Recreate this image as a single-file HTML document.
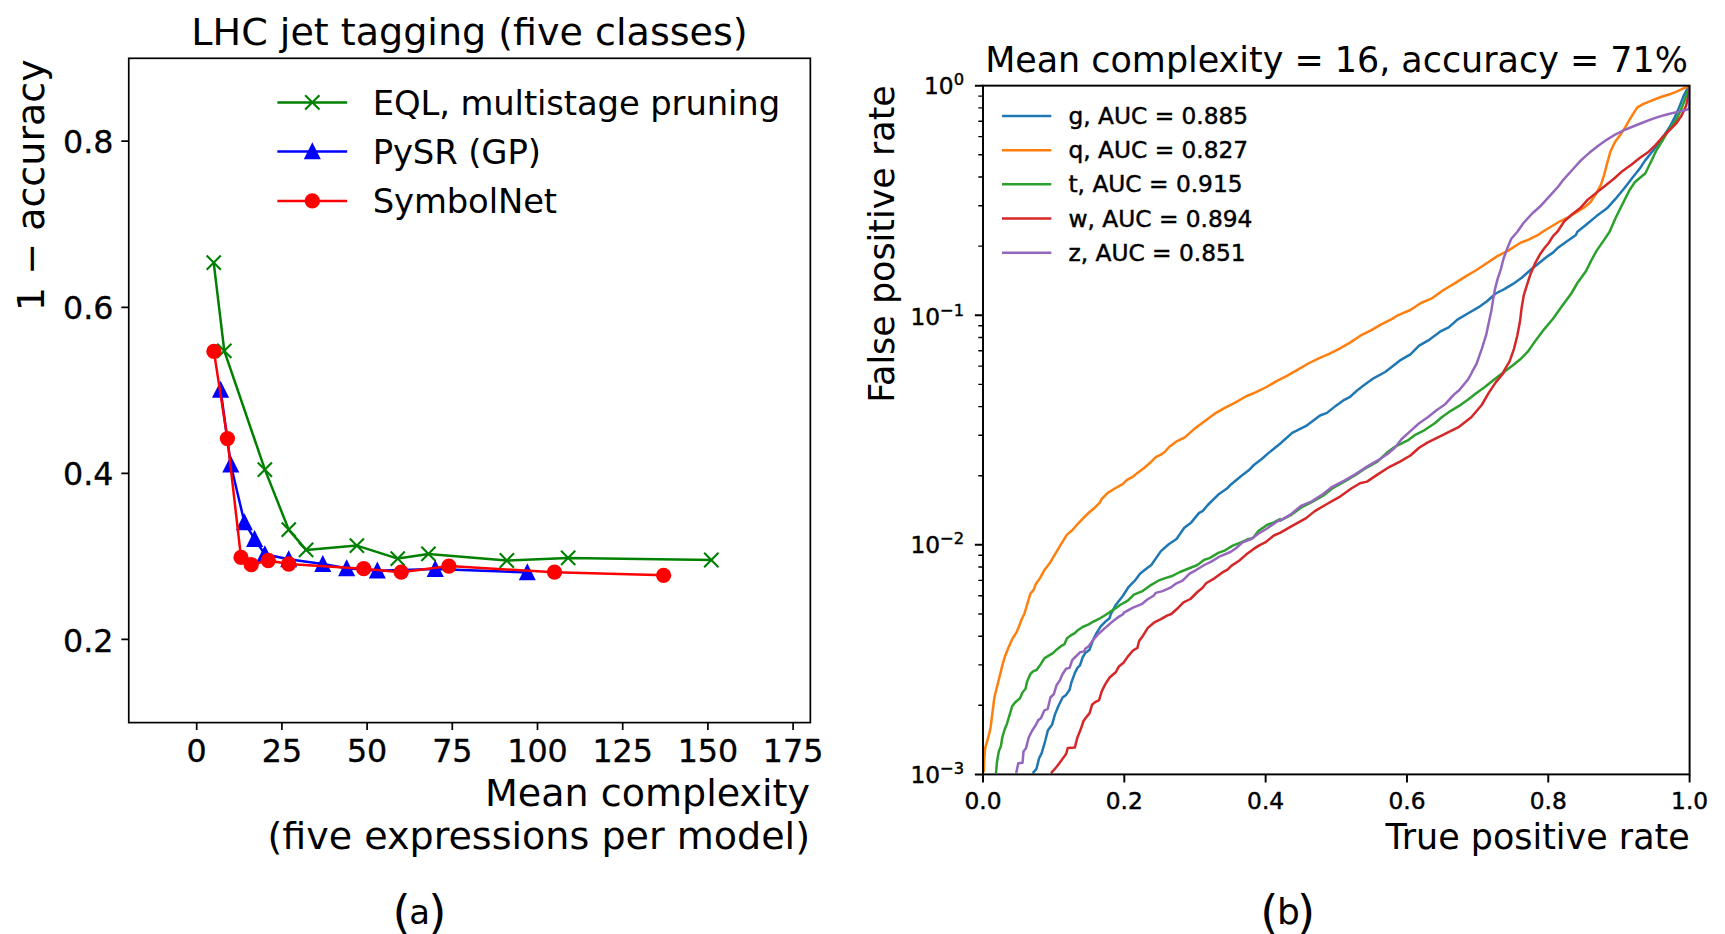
<!DOCTYPE html>
<html lang="en"><head><meta charset="utf-8"><title>SymbolNet LHC jet tagging figure</title>
<style>html,body{margin:0;padding:0;background:#fff;}body{width:1725px;height:934px;overflow:hidden;}svg{display:block;}</style>
</head><body>
<svg width="1725" height="934" viewBox="0 0 1725 934" font-family='"DejaVu Sans","Liberation Sans",sans-serif' fill="#000">
<rect width="1725" height="934" fill="#fff"/>
<g id="left-plot">
<polyline points="213.7,262.7 224.3,350.9 264.9,469.6 288.7,529.6 306.1,549.9 356.9,545.6 397.8,558.6 428.4,553.9 506.8,560.5 568.2,557.9 711.3,560.0" fill="none" stroke="#008000" stroke-width="2.50" stroke-linejoin="round" stroke-linecap="square"/>
<path d="M207.4,256.3L220.1,269.1M207.4,269.1L220.1,256.3" stroke="#008000" stroke-width="2.12" stroke-linecap="square" fill="none"/>
<path d="M217.9,344.5L230.7,357.3M217.9,357.3L230.7,344.5" stroke="#008000" stroke-width="2.12" stroke-linecap="square" fill="none"/>
<path d="M258.5,463.2L271.2,476.0M258.5,476.0L271.2,463.2" stroke="#008000" stroke-width="2.12" stroke-linecap="square" fill="none"/>
<path d="M282.4,523.2L295.1,536.0M282.4,536.0L295.1,523.2" stroke="#008000" stroke-width="2.12" stroke-linecap="square" fill="none"/>
<path d="M299.7,543.5L312.5,556.3M299.7,556.3L312.5,543.5" stroke="#008000" stroke-width="2.12" stroke-linecap="square" fill="none"/>
<path d="M350.5,539.2L363.2,552.0M350.5,552.0L363.2,539.2" stroke="#008000" stroke-width="2.12" stroke-linecap="square" fill="none"/>
<path d="M391.4,552.2L404.1,565.0M391.4,565.0L404.1,552.2" stroke="#008000" stroke-width="2.12" stroke-linecap="square" fill="none"/>
<path d="M422.1,547.5L434.8,560.3M422.1,560.3L434.8,547.5" stroke="#008000" stroke-width="2.12" stroke-linecap="square" fill="none"/>
<path d="M500.5,554.1L513.2,566.9M500.5,566.9L513.2,554.1" stroke="#008000" stroke-width="2.12" stroke-linecap="square" fill="none"/>
<path d="M561.8,551.5L574.5,564.3M561.8,564.3L574.5,551.5" stroke="#008000" stroke-width="2.12" stroke-linecap="square" fill="none"/>
<path d="M704.9,553.6L717.7,566.4M704.9,566.4L717.7,553.6" stroke="#008000" stroke-width="2.12" stroke-linecap="square" fill="none"/>
<polyline points="220.6,390.0 230.8,464.7 244.4,522.3 254.6,539.1 264.9,554.3 288.7,559.3 322.8,564.1 346.7,568.3 377.3,570.7 435.3,569.1 527.3,572.4" fill="none" stroke="#0000ff" stroke-width="2.50" stroke-linejoin="round" stroke-linecap="square"/>
<path d="M220.6,383.2L213.7,396.8L227.4,396.8Z" fill="#0000ff" stroke="#0000ff" stroke-width="2.12" stroke-linejoin="miter"/>
<path d="M230.8,457.9L224.0,471.5L237.6,471.5Z" fill="#0000ff" stroke="#0000ff" stroke-width="2.12" stroke-linejoin="miter"/>
<path d="M244.4,515.5L237.6,529.1L251.2,529.1Z" fill="#0000ff" stroke="#0000ff" stroke-width="2.12" stroke-linejoin="miter"/>
<path d="M254.6,532.3L247.8,545.9L261.5,545.9Z" fill="#0000ff" stroke="#0000ff" stroke-width="2.12" stroke-linejoin="miter"/>
<path d="M264.9,547.5L258.0,561.1L271.7,561.1Z" fill="#0000ff" stroke="#0000ff" stroke-width="2.12" stroke-linejoin="miter"/>
<path d="M288.7,552.5L281.9,566.1L295.5,566.1Z" fill="#0000ff" stroke="#0000ff" stroke-width="2.12" stroke-linejoin="miter"/>
<path d="M322.8,557.3L316.0,570.9L329.6,570.9Z" fill="#0000ff" stroke="#0000ff" stroke-width="2.12" stroke-linejoin="miter"/>
<path d="M346.7,561.5L339.8,575.1L353.5,575.1Z" fill="#0000ff" stroke="#0000ff" stroke-width="2.12" stroke-linejoin="miter"/>
<path d="M377.3,563.9L370.5,577.5L384.1,577.5Z" fill="#0000ff" stroke="#0000ff" stroke-width="2.12" stroke-linejoin="miter"/>
<path d="M435.3,562.3L428.4,575.9L442.1,575.9Z" fill="#0000ff" stroke="#0000ff" stroke-width="2.12" stroke-linejoin="miter"/>
<path d="M527.3,565.6L520.5,579.2L534.1,579.2Z" fill="#0000ff" stroke="#0000ff" stroke-width="2.12" stroke-linejoin="miter"/>
<polyline points="213.9,351.4 227.4,438.6 241.0,557.4 251.2,564.7 268.3,560.5 288.7,564.0 363.7,568.7 401.2,572.2 448.9,566.1 554.5,572.2 663.6,575.3" fill="none" stroke="#ff0000" stroke-width="2.50" stroke-linejoin="round" stroke-linecap="square"/>
<circle cx="213.9" cy="351.4" r="7.63" fill="#ff0000"/>
<circle cx="227.4" cy="438.6" r="7.63" fill="#ff0000"/>
<circle cx="241.0" cy="557.4" r="7.63" fill="#ff0000"/>
<circle cx="251.2" cy="564.7" r="7.63" fill="#ff0000"/>
<circle cx="268.3" cy="560.5" r="7.63" fill="#ff0000"/>
<circle cx="288.7" cy="564.0" r="7.63" fill="#ff0000"/>
<circle cx="363.7" cy="568.7" r="7.63" fill="#ff0000"/>
<circle cx="401.2" cy="572.2" r="7.63" fill="#ff0000"/>
<circle cx="448.9" cy="566.1" r="7.63" fill="#ff0000"/>
<circle cx="554.5" cy="572.2" r="7.63" fill="#ff0000"/>
<circle cx="663.6" cy="575.3" r="7.63" fill="#ff0000"/>
<rect x="128.75" y="58.3" width="681.60" height="664.30" fill="none" stroke="#000" stroke-width="1.70"/>
<path d="M196.70,722.6v7.43M281.90,722.6v7.43M367.10,722.6v7.43M452.30,722.6v7.43M537.50,722.6v7.43M622.70,722.6v7.43M707.90,722.6v7.43M793.10,722.6v7.43M128.75,639.46h-7.43M128.75,473.38h-7.43M128.75,307.30h-7.43M128.75,141.22h-7.43" stroke="#000" stroke-width="1.70" fill="none"/>
<g font-size="31.71" text-anchor="middle" stroke="#000" stroke-width="0.35">
<text x="196.7" y="762.1">0</text>
<text x="281.9" y="762.1">25</text>
<text x="367.1" y="762.1">50</text>
<text x="452.3" y="762.1">75</text>
<text x="537.5" y="762.1">100</text>
<text x="622.7" y="762.1">125</text>
<text x="707.9" y="762.1">150</text>
<text x="793.1" y="762.1">175</text>
</g>
<g font-size="31.71" text-anchor="end" stroke="#000" stroke-width="0.35">
<text x="113.5" y="651.5">0.2</text>
<text x="113.5" y="485.4">0.4</text>
<text x="113.5" y="319.3">0.6</text>
<text x="113.5" y="153.2">0.8</text>
</g>
<text x="469.5" y="44.9" font-size="38.05" text-anchor="middle">LHC jet tagging (five classes)</text>
<text x="810.0" y="805.8" font-size="38.05" text-anchor="end">Mean complexity</text>
<text x="810.0" y="848.7" font-size="38.05" text-anchor="end">(five expressions per model)</text>
<text transform="translate(43.6,59.2) rotate(-90)" font-size="38.05" text-anchor="end">1 − accuracy</text>
<polyline points="278.6,102.4 345.9,102.4" fill="none" stroke="#008000" stroke-width="2.50" stroke-linejoin="round" stroke-linecap="square"/>
<path d="M305.9,96.0L318.7,108.8M305.9,108.8L318.7,96.0" stroke="#008000" stroke-width="2.12" stroke-linecap="square" fill="none"/>
<text x="372.7" y="114.5" font-size="33.82" letter-spacing="-0.11">EQL, multistage pruning</text>
<polyline points="278.6,151.4 345.9,151.4" fill="none" stroke="#0000ff" stroke-width="2.50" stroke-linejoin="round" stroke-linecap="square"/>
<path d="M312.3,144.6L305.5,158.2L319.1,158.2Z" fill="#0000ff" stroke="#0000ff" stroke-width="2.12" stroke-linejoin="miter"/>
<text x="372.7" y="163.9" font-size="33.82" letter-spacing="-0.11">PySR (GP)</text>
<polyline points="278.6,200.9 345.9,200.9" fill="none" stroke="#ff0000" stroke-width="2.50" stroke-linejoin="round" stroke-linecap="square"/>
<circle cx="312.3" cy="200.9" r="7.63" fill="#ff0000"/>
<text x="372.7" y="213.4" font-size="33.82" letter-spacing="-0.11">SymbolNet</text>
</g>
<g id="right-plot">
<clipPath id="rc"><rect x="983.0" y="85.65" width="706.60" height="688.75"/></clipPath>
<g clip-path="url(#rc)">
<polyline points="1032.7,773.1 1036.5,768.8 1039.1,758.3 1041.7,753.1 1045.2,741.0 1047.8,730.5 1052.2,724.4 1054.8,714.9 1058.3,706.2 1062.6,697.5 1066.1,694.9 1069.6,689.7 1071.3,682.7 1074.8,673.1 1077.4,667.9 1080.0,665.3 1082.6,657.5 1085.2,653.1 1089.6,649.7 1093.0,640.1 1096.5,633.1 1100.9,626.2 1105.2,621.8 1109.6,618.3 1110.8,614.0 1110.8,614.1 1115.7,605.0 1122.6,596.3 1128.7,586.8 1134.8,580.7 1140.0,573.7 1144.3,570.3 1151.3,565.0 1160.9,551.1 1168.7,544.2 1176.5,539.0 1184.3,527.7 1191.3,522.4 1199.1,512.9 1202.6,511.1 1207.8,505.0 1218.3,494.6 1227.0,488.5 1231.3,484.2 1240.9,476.3 1248.7,470.3 1253.9,465.0 1261.7,459.0 1268.7,452.9 1280.0,443.7 1292.2,432.9 1306.1,425.9 1320.0,415.5 1327.0,412.9 1335.7,405.9 1344.3,399.8 1349.6,397.2 1358.3,389.4 1365.2,384.2 1373.9,378.1 1385.2,372.0 1400.0,360.4 1410.4,354.3 1419.1,345.7 1429.6,339.6 1440.0,331.7 1448.7,327.4 1457.4,319.6 1467.8,313.5 1478.3,307.4 1487.0,301.3 1495.7,293.5 1504.3,289.1 1513.0,283.9 1521.7,277.8 1530.4,270.0 1539.1,263.0 1547.8,256.1 1553.0,252.6 1558.3,247.4 1567.0,241.3 1575.7,235.2 1577.4,231.7 1586.1,224.8 1596.5,216.1 1607.0,208.3 1615.7,198.7 1624.3,188.3 1633.0,177.0 1640.0,168.3 1645.2,160.4 1652.2,151.7 1659.1,143.0 1664.3,135.2 1670.4,125.7 1674.8,117.0 1679.1,107.4 1683.5,96.1 1688.7,86.2" fill="none" stroke="#1f77b4" stroke-width="2.5" stroke-linejoin="round"/>
<polyline points="983.8,772.3 984.3,758.3 985.2,747.9 987.8,739.2 990.4,728.8 992.2,714.9 993.9,701.0 994.8,695.7 997.4,685.3 1000.0,674.9 1002.6,664.4 1005.2,655.7 1008.7,647.0 1012.2,639.2 1016.5,632.3 1019.1,626.2 1021.7,619.2 1024.3,614.0 1024.3,614.1 1027.0,605.0 1030.4,593.7 1033.9,589.4 1035.7,584.2 1040.0,578.1 1044.3,570.3 1049.6,563.3 1054.8,554.6 1060.0,545.9 1067.0,534.6 1072.2,530.3 1078.3,523.3 1084.3,517.2 1089.6,512.0 1094.8,507.7 1100.0,502.4 1101.7,499.0 1107.8,492.9 1114.8,488.5 1122.6,484.2 1127.0,479.8 1132.2,477.2 1137.4,472.9 1143.5,468.5 1149.6,463.3 1155.7,457.2 1160.9,454.6 1164.7,452.0 1169.1,447.0 1176.1,441.7 1184.8,437.4 1193.5,429.6 1203.9,421.7 1214.3,413.9 1224.8,407.8 1235.2,402.6 1245.7,396.5 1256.1,392.2 1266.5,387.0 1277.0,380.9 1287.4,375.7 1297.8,369.6 1308.3,363.5 1318.7,358.3 1329.1,353.9 1339.6,348.7 1350.0,342.6 1360.4,335.7 1370.9,330.4 1381.3,324.3 1391.7,319.1 1398.7,314.8 1400.0,314.3 1410.4,310.0 1420.9,303.0 1431.3,298.7 1443.5,290.0 1453.9,283.9 1466.1,276.1 1476.5,270.0 1487.0,263.0 1497.4,256.1 1507.8,250.9 1520.0,243.0 1528.7,239.6 1539.1,234.3 1542.6,231.7 1551.3,226.5 1560.0,221.3 1568.7,217.0 1577.4,211.7 1584.3,207.4 1590.4,202.2 1595.7,194.3 1600.9,184.8 1604.3,174.3 1607.0,163.9 1610.4,151.7 1614.8,142.2 1620.0,135.2 1625.2,127.4 1629.6,119.6 1633.9,112.6 1637.4,107.4 1643.5,103.9 1652.2,100.4 1660.9,97.0 1669.6,94.3 1676.5,91.7 1683.5,88.3 1689.4,86.2" fill="none" stroke="#ff7f0e" stroke-width="2.5" stroke-linejoin="round"/>
<polyline points="996.0,773.1 997.0,761.8 998.8,751.4 1000.9,746.2 1002.3,737.5 1004.3,730.5 1007.0,723.6 1009.6,714.9 1012.2,706.2 1014.8,702.7 1020.0,698.3 1022.6,692.3 1025.6,688.8 1027.0,681.8 1030.4,674.0 1033.0,671.4 1036.5,670.0 1040.0,665.3 1044.3,658.3 1048.7,655.7 1053.0,653.1 1056.5,649.7 1060.9,646.2 1064.3,644.4 1067.0,638.3 1070.4,635.7 1074.8,633.1 1077.4,630.5 1082.6,627.0 1088.7,624.4 1093.0,621.8 1100.0,618.3 1104.3,615.7 1107.0,614.0 1113.9,609.4 1120.0,605.0 1127.8,600.7 1133.9,594.6 1142.6,591.1 1149.6,585.9 1158.3,580.7 1165.2,578.1 1171.3,576.3 1180.0,572.0 1188.7,568.5 1197.4,565.0 1204.3,559.8 1209.6,558.1 1218.3,552.9 1225.2,550.3 1232.2,545.9 1240.9,542.4 1248.7,539.0 1253.0,538.1 1258.3,531.1 1267.0,525.0 1273.9,522.4 1280.0,519.0 1280.0,520.7 1290.4,515.5 1300.9,507.7 1311.3,502.4 1323.5,495.5 1332.2,488.5 1344.3,481.6 1354.8,475.5 1365.2,468.5 1377.4,461.6 1387.8,452.0 1394.8,446.8 1401.7,443.3 1408.7,439.8 1415.7,434.6 1424.3,430.3 1434.8,423.3 1441.7,417.2 1450.4,411.1 1459.1,405.9 1467.8,399.8 1476.5,392.9 1485.2,386.8 1493.9,379.8 1501.7,373.7 1511.3,366.5 1520.0,359.6 1527.8,351.7 1535.7,340.4 1544.3,329.1 1553.0,318.7 1561.7,306.5 1571.3,293.5 1577.4,283.0 1586.1,270.9 1591.3,260.4 1596.5,250.9 1604.3,239.6 1609.6,231.7 1615.7,217.8 1622.6,203.9 1629.6,190.0 1634.8,182.2 1640.0,177.8 1645.2,173.5 1650.4,163.0 1655.7,151.7 1662.6,140.4 1668.7,130.0 1675.7,120.4 1680.9,110.0 1685.2,98.7 1689.2,86.2" fill="none" stroke="#2ca02c" stroke-width="2.5" stroke-linejoin="round"/>
<polyline points="1051.0,773.1 1056.5,767.0 1061.7,760.1 1066.1,754.0 1067.8,747.9 1074.8,747.6 1077.4,737.5 1080.9,728.8 1083.5,721.0 1086.1,717.5 1089.6,713.1 1092.2,704.4 1095.7,701.8 1099.1,700.1 1101.7,691.4 1105.2,684.4 1109.6,677.5 1115.7,672.3 1119.1,666.2 1123.5,662.7 1127.8,656.6 1133.0,650.5 1137.4,647.9 1139.1,641.0 1143.5,634.9 1147.8,627.9 1153.9,622.7 1160.9,619.2 1167.0,615.7 1171.3,614.0 1178.3,607.7 1183.5,602.4 1190.4,599.0 1197.4,592.0 1202.6,587.7 1206.1,583.3 1214.8,578.1 1221.7,572.9 1227.8,569.4 1231.3,565.9 1239.1,560.7 1246.1,554.6 1253.0,549.4 1258.3,545.9 1265.2,542.4 1273.9,535.5 1280.0,532.9 1280.0,532.9 1290.4,526.8 1306.1,518.1 1314.8,511.1 1325.2,505.0 1339.1,497.2 1351.3,488.5 1360.0,483.3 1367.0,481.6 1377.4,474.6 1389.6,466.8 1400.0,461.6 1410.4,455.5 1419.1,447.7 1427.8,442.4 1436.5,438.1 1447.0,432.9 1459.1,426.8 1471.3,417.2 1481.7,405.0 1488.7,392.9 1495.7,382.4 1503.5,372.9 1503.5,371.7 1509.6,361.3 1513.9,349.1 1517.4,335.2 1520.0,321.3 1521.7,307.4 1523.8,295.2 1527.0,284.8 1530.4,274.3 1534.8,263.9 1540.0,254.3 1544.3,248.3 1548.7,243.0 1553.0,236.1 1557.4,231.7 1564.3,221.3 1572.2,214.3 1580.9,207.4 1587.8,199.6 1596.5,192.6 1605.2,185.7 1613.9,178.7 1622.6,170.9 1631.3,164.8 1640.0,157.8 1648.7,151.7 1655.7,144.8 1662.6,137.0 1669.6,130.0 1676.5,123.0 1681.7,115.2 1686.1,105.7 1688.7,94.3 1689.6,86.2" fill="none" stroke="#d62728" stroke-width="2.5" stroke-linejoin="round"/>
<polyline points="1016.2,773.1 1018.3,763.2 1022.6,762.7 1023.5,751.4 1026.1,747.9 1028.7,737.5 1032.2,730.5 1035.7,725.3 1038.3,720.1 1040.9,718.3 1044.3,710.5 1047.8,708.8 1050.4,697.5 1053.9,694.0 1056.5,685.3 1060.0,680.1 1062.6,674.0 1066.1,668.8 1069.6,667.9 1072.2,660.1 1074.8,657.5 1080.0,652.3 1084.3,651.4 1085.2,648.8 1088.7,646.2 1093.0,640.1 1098.3,634.0 1105.2,627.9 1112.2,621.8 1119.1,616.6 1123.5,614.0 1123.5,612.9 1133.0,607.7 1141.7,604.2 1147.0,599.8 1153.9,595.5 1155.7,592.9 1162.6,591.1 1170.4,587.7 1176.5,583.3 1182.6,580.7 1189.6,573.7 1195.7,570.3 1204.3,565.0 1211.3,561.6 1220.0,556.3 1230.4,552.0 1235.7,548.5 1242.6,542.4 1251.3,539.0 1258.3,533.7 1267.0,528.5 1275.7,522.4 1280.0,519.8 1280.0,520.7 1290.4,514.6 1300.9,505.9 1311.3,501.6 1323.5,493.7 1332.2,486.8 1344.3,480.7 1354.8,474.6 1365.2,467.7 1377.4,460.7 1387.8,453.7 1394.8,447.7 1401.7,439.0 1410.4,431.1 1419.1,423.3 1427.8,417.2 1436.5,410.3 1445.2,404.2 1453.9,394.6 1459.1,390.3 1467.8,379.8 1472.2,372.0 1472.2,371.7 1476.5,363.9 1481.7,349.1 1486.1,335.2 1488.7,323.0 1491.3,310.9 1493.0,300.4 1494.8,290.0 1497.4,279.6 1500.9,269.1 1503.5,258.7 1507.0,249.1 1511.3,238.7 1517.4,231.7 1523.5,223.0 1532.2,213.5 1540.9,205.7 1549.6,196.1 1558.3,186.5 1563.5,179.6 1572.2,170.0 1580.9,160.4 1589.6,152.6 1598.3,145.7 1607.0,139.6 1615.7,134.3 1624.3,130.0 1633.0,126.5 1641.7,123.0 1650.4,119.6 1659.1,116.6 1667.8,114.3 1676.5,112.1 1685.2,110.3 1689.4,108.6 1689.6,86.0" fill="none" stroke="#9467bd" stroke-width="2.5" stroke-linejoin="round"/>
</g>
<rect x="983.0" y="85.65" width="706.60" height="688.75" fill="none" stroke="#000" stroke-width="1.95"/>
<path d="M983.00,774.4v8.14M1124.32,774.4v8.14M1265.64,774.4v8.14M1406.96,774.4v8.14M1548.28,774.4v8.14M1689.60,774.4v8.14M983.0,85.65h-8.14M983.0,315.23h-8.14M983.0,544.82h-8.14M983.0,774.40h-8.14" stroke="#000" stroke-width="1.95" fill="none"/>
<path d="M983.0,246.12h-4.65M983.0,205.69h-4.65M983.0,177.01h-4.65M983.0,154.76h-4.65M983.0,136.58h-4.65M983.0,121.21h-4.65M983.0,107.90h-4.65M983.0,96.16h-4.65M983.0,475.71h-4.65M983.0,435.28h-4.65M983.0,406.59h-4.65M983.0,384.34h-4.65M983.0,366.17h-4.65M983.0,350.80h-4.65M983.0,337.48h-4.65M983.0,325.74h-4.65M983.0,705.29h-4.65M983.0,664.86h-4.65M983.0,636.18h-4.65M983.0,613.93h-4.65M983.0,595.75h-4.65M983.0,580.38h-4.65M983.0,567.07h-4.65M983.0,555.32h-4.65" stroke="#000" stroke-width="1.40" fill="none"/>
<g font-size="23.27" text-anchor="middle" stroke="#000" stroke-width="0.45">
<text x="983.0" y="808.9">0.0</text>
<text x="1124.3" y="808.9">0.2</text>
<text x="1265.6" y="808.9">0.4</text>
<text x="1407.0" y="808.9">0.6</text>
<text x="1548.3" y="808.9">0.8</text>
<text x="1689.6" y="808.9">1.0</text>
</g>
<g font-size="23.27" text-anchor="end" stroke="#000" stroke-width="0.45">
<text x="964.0" y="94.2">10<tspan font-size="16.29" dy="-9.2">0</tspan></text>
<text x="964.0" y="324.7">10<tspan font-size="16.29" dy="-9.2">−1</tspan></text>
<text x="964.0" y="553.1">10<tspan font-size="16.29" dy="-9.2">−2</tspan></text>
<text x="964.0" y="782.8">10<tspan font-size="16.29" dy="-9.2">−3</tspan></text>
</g>
<text x="1336.5" y="71.6" font-size="34.91" text-anchor="middle">Mean complexity = 16, accuracy = 71%</text>
<text x="1689.7" y="848.8" font-size="34.91" text-anchor="end">True positive rate</text>
<text transform="translate(894.0,85.2) rotate(-90)" font-size="34.91" text-anchor="end">False positive rate</text>
<line x1="1002.0" y1="115.95" x2="1051.3" y2="115.95" stroke="#1f77b4" stroke-width="2.5"/>
<text x="1068.5" y="123.9" font-size="23.27" stroke="#000" stroke-width="0.45">g, AUC = 0.885</text>
<line x1="1002.0" y1="150.15" x2="1051.3" y2="150.15" stroke="#ff7f0e" stroke-width="2.5"/>
<text x="1068.5" y="158.1" font-size="23.27" stroke="#000" stroke-width="0.45">q, AUC = 0.827</text>
<line x1="1002.0" y1="184.35" x2="1051.3" y2="184.35" stroke="#2ca02c" stroke-width="2.5"/>
<text x="1068.5" y="192.3" font-size="23.27" stroke="#000" stroke-width="0.45">t, AUC = 0.915</text>
<line x1="1002.0" y1="218.55" x2="1051.3" y2="218.55" stroke="#d62728" stroke-width="2.5"/>
<text x="1068.5" y="226.5" font-size="23.27" stroke="#000" stroke-width="0.45">w, AUC = 0.894</text>
<line x1="1002.0" y1="252.75" x2="1051.3" y2="252.75" stroke="#9467bd" stroke-width="2.5"/>
<text x="1068.5" y="260.7" font-size="23.27" stroke="#000" stroke-width="0.45">z, AUC = 0.851</text>
</g>
<g id="captions" font-family='"DejaVu Sans","Liberation Sans",sans-serif'>
<text><tspan x="392.6" y="928.3" font-size="46.6">(</tspan><tspan x="409.2" y="923.8" font-size="33.9">a</tspan><tspan x="428.3" y="928.3" font-size="46.6">)</tspan></text>
<text><tspan x="1260.3" y="928.3" font-size="46.6">(</tspan><tspan x="1277.1" y="924.2" font-size="36">b</tspan><tspan x="1297.1" y="928.3" font-size="46.6">)</tspan></text>
</g>
</svg>
</body></html>
